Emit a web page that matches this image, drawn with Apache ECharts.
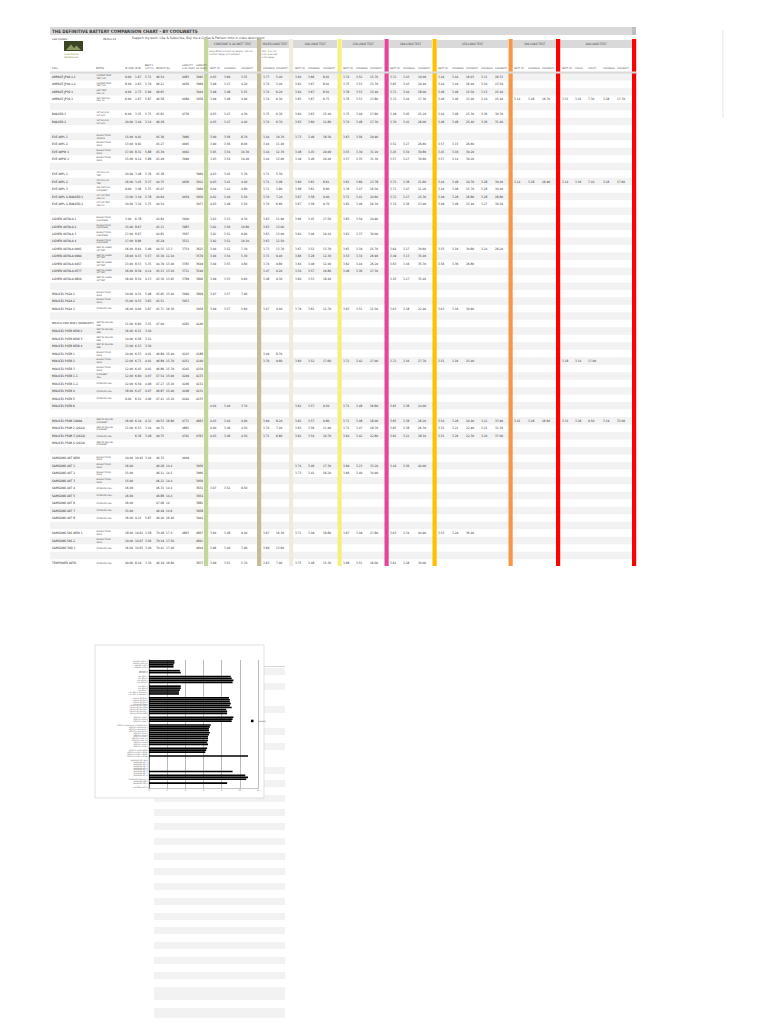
<!DOCTYPE html>
<html><head><meta charset="utf-8">
<script src="https://cdn.jsdelivr.net/npm/echarts@6/dist/echarts.min.js"></script>
<style>html,body{margin:0;padding:0;background:#fff}#c{width:768px;height:1024px}</style>
</head><body><div id="c"></div>
<script>
// ---------- chart data ----------
const categories = [
 'AMPACE JP40 x-1','AMPACE JP40 x-2','AMPACE JP30 1','AMPACE JP30 2','',
 'BAK45D 1','BAK45D 2','',
 'EVE 40PL 1','EVE 40PL 2','EVE 40PW 1','EVE 40PW 2','',
 'EVE 40PL 1','EVE 40PL 2','EVE 40PL 3','EVE 40PL & BAK45D 1','EVE 40PL & BAK45D 2','',
 'LISHEN 4070LA 1','LISHEN 4070LA 2','LISHEN 4070LA 3','LISHEN 4070LA 4','LISHEN 4070LA 0001',
 'LISHEN 4070LA 0994','LISHEN 4070LA 0457','LISHEN 4070LA 0577','LISHEN 4070LA 0820','',
 'MOLICEL P42A 1','MOLICEL P42A 2','MOLICEL P42A 3','',
 'MOLICEL P45B NEW 1 (DATASHEET)','MOLICEL P45B NEW 2','MOLICEL P45B NEW 3','MOLICEL P45B NEW 4',
 'MOLICEL P45B 1','MOLICEL P45B 2','MOLICEL P45B 3','MOLICEL P45B 1-1','MOLICEL P45B 1-2',
 'MOLICEL P45B 4','MOLICEL P45B 5','MOLICEL P45B 6','',
 'MOLICEL P50B 1000A','MOLICEL P50B 2 (2024)','MOLICEL P50B 3 (2024)','MOLICEL P50B 4 (2024)','',
 'SAMSUNG 40T NEW','SAMSUNG 40T 1','SAMSUNG 40T 2','SAMSUNG 40T 3','SAMSUNG 40T 4',
 'SAMSUNG 40T 5','SAMSUNG 40T 6','SAMSUNG 40T 7','SAMSUNG 40T 8','',
 'SAMSUNG 50S NEW 1','SAMSUNG 50S 2','SAMSUNG 30Q 1','',
 'TENPOWER 40TG'
];
const values = [
 2.8,2.8,2.7,2.7,null,
 3.4,3.5,null,
 9.0,9.1,9.3,9.2,null,
 3.5,3.5,3.4,3.3,3.3,null,
 8.8,8.9,8.9,9.0,8.9,9.1,8.5,8.6,8.6,null,
 9.3,9.2,9.1,null,
 6.8,6.7,6.6,6.6,6.7,6.6,6.5,6.5,6.5,6.4,6.5,null,
 6.4,6.3,6.2,null,
 10.9,null,null,null,null,null,null,null,
 9.2,null,10.6,10.9,10.7,null,
 8.6,null,null
];
const seriesName = 'Series1';
const xMin = 0, xMax = 12, xStep = 2;

// ---------- spreadsheet texts ----------
const titleText = 'THE DEFINITIVE BATTERY COMPARISON CHART - BY COOLWATTS';
const updateLabel = 'Last Update:';
const updateDate = '28-Nov-24';
const supportText = 'Support my work: Like & Subscribe, Buy me a Coffee & Patreon links in video description';
const sectionTitles = ['CONSTANT 0.2A WATT TEST','MIXED LOAD TEST','10A LOAD TEST','15A LOAD TEST','20A LOAD TEST','25A LOAD TEST','30A LOAD TEST','40A LOAD TEST'];
const leftHeaders = ['CELL','NOTES','IR (mΩ)','IR AC','BEST V^CUT (V)','WEIGHT (G)','','CAPACITY^0.2A (mAh)','CAPACITY^1A (mAh)'];
const sectionHeaders = [
 ['WATT (h)','20%WH(s)','20%WH(T)'],
 ['20%WH(s)','20%WH(T)'],
 ['WATT (h)','20%WH(s)','20%WH(T)'],
 ['WATT (h)','20%WH(s)','20%WH(T)'],
 ['WATT (h)','20%WH(s)','20%WH(T)'],
 ['WATT (h)','20%WH(s)','20%WH(T)','10%WH(s)','10%WH(T)'],
 ['WATT (h)','20%WH(s)','20%WH(T)'],
 ['WATT (h)','20%(s)','20%(T)','10%WH(s)','10%WH(T)']
];
// notes|left|green|khaki|cream|yellow|pink|gold|orange|red
const tableRows = [
 'CURRENT/TEMP^TEST OVR|9.00 1.67 5.71 46.54 - 4083 3995|4.03 3.69 3.55|3.77 5.40|3.64 3.66 8.01|3.74 3.52 15.70|3.72 3.43 19.09|3.44 3.44 16.03 3.11 26.53',
 'CURRENT/TEMP^TEST OVR|8.00 2.63 5.70 46.21 - 4056 3960|3.99 3.47 4.20|3.74 5.40|3.62 3.67 8.01|3.75 3.53 15.70|3.65 3.43 20.40|3.44 3.44 16.40 3.10 23.50',
 'HEAT TEST^CELL OK|9.00 2.73 5.90 46.65 - - 3944|3.99 3.48 5.55|3.74 6.20|3.64 3.67 8.01|3.76 3.53 15.40|3.72 3.44 18.00|3.46 3.46 15.50 3.13 25.40',
 '2ND TEST 30A^CELL OK|6.00 2.67 5.87 46.58 - 4080 3958|3.99 3.48 4.90|3.74 6.30|3.65 3.67 6.75|3.76 3.53 13.80|3.72 3.44 17.30|3.46 3.46 15.40 3.10 25.40|3.14 3.28 16.70|3.31 3.41 7.30 3.28 17.70',
 '',
 '1ST 10A/2.5V^CUT 4.2V|6.00 3.35 5.75 45.81 - 4376 -|4.03 3.47 4.30|3.75 6.30|3.64 3.63 15.40|3.75 3.49 17.80|3.49 3.45 25.20|3.44 3.48 25.30 3.36 30.70',
 '1ST 10A/2.5V^CUT 4.2V|20.00 3.44 3.14 46.18 - - -|4.03 3.47 4.40|3.74 6.70|3.63 3.60 12.80|3.74 3.48 17.30|3.70 3.41 26.00|3.46 3.48 25.40 3.36 31.40',
 '',
 'BOUGHT FROM^AMAZON|15.00 9.91 - 45.36 - 3966 -|3.90 3.56 8.70|3.44 10.70|3.73 3.46 18.30|3.63 3.56 29.90',
 'BOUGHT FROM^NKON|13.00 9.91 - 45.27 - 4005 -|3.90 3.56 8.00|3.44 11.40|||3.52 3.27 26.60|3.57 3.15 26.60',
 'BOUGHT FROM^NKON|17.00 8.32 5.88 45.39 - 4002 -|3.95 3.54 10.30|3.44 12.70|3.48 3.45 20.00|3.55 3.39 31.10|3.45 3.34 30.80|3.45 3.16 30.20',
 'BOUGHT FROM^NKON|15.00 9.14 5.88 45.49 - 3990 -|3.93 3.54 10.40|3.44 13.00|3.49 3.46 20.40|3.57 3.35 31.30|3.57 3.27 30.60|3.57 3.14 30.20',
 '',
 '1ST 10A/0.5V^TEST|20.00 3.48 5.76 45.38 - - 3960|4.03 3.45 5.70|3.71 5.30',
 '1ST 10A/0.5V^TEST|16.00 3.45 5.37 44.75 - 4056 3912|4.03 3.41 4.40|3.71 5.08|3.60 3.61 8.61|3.61 3.66 13.78|3.72 3.38 21.60|3.44 3.48 19.70 3.28 30.40|3.14 3.28 26.90|3.14 3.16 7.10 3.28 17.60',
 '2ND TEST 10A^DATASHEET|9.00 3.46 5.75 45.07 - - 3960|4.04 3.42 4.80|3.72 5.80|3.68 3.61 8.80|3.76 3.47 16.50|3.71 3.47 21.20|3.44 3.48 15.70 3.28 30.40',
 'CUT OFF TEST^ONLY V2|13.00 3.19 5.78 44.64 - 4059 3950|4.02 3.40 5.50|3.70 7.20|3.67 3.58 9.00|3.71 3.41 20.60|3.72 3.27 25.30|3.49 3.28 16.80 3.28 28.80',
 'CUT OFF TEST^ONLY V2|10.00 3.34 5.75 44.54 - - 3977|4.03 3.48 5.50|3.70 6.80|3.67 3.58 9.70|3.81 3.46 16.30|3.74 3.36 23.00|3.49 3.48 15.40 3.27 30.10',
 '',
 'BOUGHT FROM^ALIEXPRESS|3.00 6.78 - 44.84 - 3900 -|3.93 3.53 9.30|3.63 11.90|3.66 3.45 17.50|3.65 3.59 29.90',
 'BOUGHT FROM^ALIEXPRESS|15.00 8.67 - 45.11 - 3983 -|3.92 3.56 10.80|3.63 13.00',
 'BOUGHT FROM^ALIEXPRESS|17.00 8.67 - 44.81 - 3567 -|3.92 3.52 9.90|3.63 13.00|3.64 3.46 19.10|3.61 3.37 30.00',
 'BOUGHT FROM^ALIEXPRESS|17.00 8.86 - 45.29 - 3521 -|3.92 3.52 10.10|3.63 12.50',
 'SENT BY LISHEN^1ST TEST|16.00 8.64 5.98 44.55 13.3 3754 3625|3.94 3.52 7.30|3.73 13.70|3.67 3.51 13.70|3.65 3.39 25.70|3.64 3.27 30.60|3.55 3.16 30.80 3.24 28.20',
 'SENT BY LISHEN^1ST TEST|18.00 9.15 5.57 45.30 12.10 - 3570|3.94 3.54 5.30|3.71 9.40|3.66 3.28 12.30|3.53 3.34 26.90|3.49 3.13 35.40',
 'SENT BY LISHEN^1ST TEST|13.00 8.53 5.35 44.79 13.40 3783 3649|3.94 3.55 4.60|3.74 9.80|3.64 3.48 12.40|3.62 3.44 26.20|3.63 3.16 35.70|3.56 3.36 26.80',
 'SENT BY LISHEN^1ST TEST|16.00 8.59 4.14 45.13 13.10 3711 3540||3.47 9.20|3.54 3.57 16.80|3.46 3.36 27.30',
 'SENT BY LISHEN^1ST TEST|16.00 8.54 4.13 45.30 13.95 3789 3806|3.99 3.55 4.60|3.48 9.30|3.60 3.53 18.40||3.45 3.27 35.40',
 '',
 'BOUGHT FROM^NKON|19.00 9.32 5.98 45.95 15.40 3990 3809|3.97 3.57 7.90',
 'BOUGHT FROM^NKON|15.00 9.53 3.65 45.51 - 3953 -',
 'STANDARD CELL|16.00 9.00 5.87 45.71 16.30 - 3958|3.99 3.57 5.60|3.47 9.40|3.79 3.61 12.70|3.63 3.51 21.50|3.63 3.18 22.40|3.63 3.16 30.90',
 '',
 'SENT BY MOLICEL^NEW|11.00 6.60 3.55 47.00 - 4283 4246',
 'SENT BY MOLICEL^NEW|16.00 6.51 3.50',
 'SENT BY MOLICEL^NEW|14.00 6.56 3.52',
 'SENT BY MOLICEL^NEW|13.00 6.53 3.50',
 'BOUGHT FROM^NKON|10.00 6.53 4.01 46.89 15.40 4203 4188||3.49 8.70',
 'BOUGHT FROM^NKON|12.00 6.71 4.01 46.89 15.70 4251 4240||3.70 9.80|3.60 3.52 17.60|3.72 3.42 27.00|3.72 3.16 27.70|3.51 3.16 25.40||3.18 3.14 17.00|3.28 3.17 15.78 3.12 16.30',
 'BOUGHT FROM^NKON|12.00 6.45 4.01 46.86 15.70 4202 4259',
 'DATASHEET^CELL|12.00 6.60 4.07 47.54 15.00 4209 4233',
 'STANDARD CELL|12.00 6.59 4.08 47.27 15.10 4206 4232',
 'STANDARD CELL|18.00 6.47 4.07 46.87 15.40 4208 4231',
 'STANDARD CELL|9.00 6.52 4.06 47.41 15.10 4294 4235',
 '||4.04 3.40 3.70||3.62 3.57 9.50|3.71 3.48 16.80|3.65 3.38 24.00',
 '',
 'SENT BY MOLICEL^DATASHEET|16.00 6.29 4.32 49.53 16.80 4771 4663|4.03 3.44 4.90|3.69 8.20|3.62 3.57 9.80|3.71 3.48 18.00|3.65 3.38 26.20|3.54 3.28 20.40 3.22 33.90|3.41 3.28 26.60|3.31 3.28 9.50 3.19 33.00',
 'SENT BY MOLICEL^DATASHEET|11.00 6.53 3.44 49.71 - 4865 -|4.00 3.46 4.50|3.70 7.40|3.63 3.56 11.90|3.71 3.47 18.70|3.65 3.38 26.30|3.51 3.21 22.90 3.21 32.30',
 'STANDARD CELL|- 6.36 3.48 49.75 - 4702 4763|4.03 3.46 4.50|3.71 6.80|3.62 3.54 10.70|3.64 3.42 22.80|3.62 3.21 28.10|3.51 3.26 22.30 3.20 37.00',
 'SENT BY MOLICEL^DATASHEET',
 '',
 'BOUGHT FROM^NKON|19.00 10.93 3.44 46.33 - 4009 -',
 'BOUGHT FROM^NKON|16.00 - - 46.28 14.4 - 3956|||3.74 3.46 17.30|3.69 3.23 33.20|3.44 3.36 44.00',
 'BOUGHT FROM^NKON|15.00 - - 46.11 14.5 - 3966|||3.73 3.41 16.20|3.66 3.40 34.90',
 'BOUGHT FROM^NKON|15.00 - - 46.21 14.4 - 3956',
 'STANDARD CELL|16.00 - - 46.31 14.4 - 3632|3.97 3.52 9.50',
 'STANDARD CELL|16.00 - - 46.88 14.4 - 3954',
 'STANDARD CELL|16.00 - - 47.08 14 - 3882',
 'STANDARD CELL|15.00 - - 46.49 14.6 - 3958',
 'STANDARD CELL|16.00 9.21 5.87 46.26 16.40 - 3944',
 '',
 'BOUGHT FROM^NKON|18.00 10.62 3.58 70.48 17.4 4863 4807|3.94 3.48 9.40|3.67 16.30|3.71 3.49 18.80|3.67 3.49 27.80|3.63 3.34 44.90|3.53 3.29 36.40',
 'BOUGHT FROM^NKON|19.00 10.67 3.56 70.19 17.50 - 4841',
 'STANDARD CELL|16.00 10.65 3.40 70.42 17.40 - 4844|3.96 3.40 7.90|3.69 13.60',
 '',
 'STANDARD CELL|40.00 8.19 3.30 46.29 16.80 - 3873|3.99 3.51 5.70|3.63 7.90|3.75 3.48 15.30|3.68 3.51 26.00|3.61 3.28 30.00'
];

// ---------- layout (page drawing) ----------
const FF = "'Liberation Sans Narrow','DejaVu Sans Condensed','Liberation Sans',sans-serif";
const mctx = document.createElement('canvas').getContext('2d');
function measure(s,size,bold){ mctx.font = (bold?'bold ':'')+size+'px '+FF; return mctx.measureText(s).width; }
const els = [];
function rect(x,y,w,h,fill,z,stroke,lw){
  const st={fill:fill}; if(stroke){st.stroke=stroke;st.lineWidth=lw||0.8;}
  els.push({type:'rect',shape:{x:x,y:y,width:w,height:h},style:st,z:(z==null?-10:z),silent:true});
}
function txt(x,y,s,size,o){
  o=o||{};
  if(!s) return;
  const st={text:s,fontSize:size,fontFamily:FF,
    fontWeight:o.bold?'bold':'normal',fill:o.fill||'#333',align:o.align||'left',verticalAlign:'middle',
    textAlign:o.align||'left',textVerticalAlign:'middle'};
  if(o.width){st.width=o.width;st.overflow='break';st.lineHeight=o.lineHeight||size*1.1;}
  els.push({type:'text',x:x,y:y,silent:true,z:(o.z==null?-5:o.z),style:st});
}
const X0=50, X1=636, NAME_X=52;
// title bar
rect(X0,27,X1-X0,8,'#d9d9d9',-9);
rect(632,27,4,8,'#bfbfbf',-8);
const titleSize = 5*146/measure(titleText,5,true);
txt(NAME_X,31,titleText,titleSize,{bold:true,fill:'#3a3a3a'});
txt(NAME_X,38.3,updateLabel,2.8,{fill:'#444'});
txt(103,38.3,updateDate,2.8,{fill:'#444'});
const supSize = 2.8*133/measure(supportText,2.8);
txt(132,38.3,supportText,supSize,{fill:'#444'});
rect(722.5,30,0.8,88,'#e4e4e4',-9);
// logo
rect(64,41,19,10,'#3b4526',-8);
els.push({type:'polygon',shape:{points:[[66,50],[71,44.5],[74,48],[76.5,45.5],[81,50]]},style:{fill:'#8c9b5e'},z:-7,silent:true});
txt(64,54,'Lucas Stallion',2.4,{fill:'#6b8e23'});
txt(64,57.2,'Get Batteries',2.4,{fill:'#6b8e23'});

// sections
const sections = [
 {x0:208,x1:257,cols:[210,224,241],bar:'#c4d79b',bx:204},
 {x0:261,x1:289,cols:[263,276],bar:'#c4bd97',bx:257},
 {x0:293,x1:337,cols:[295,308,323],bar:'#eeece1',bx:289},
 {x0:342,x1:384,cols:[343,356,370],bar:'#f3f07e',bx:337.5},
 {x0:389,x1:432,cols:[390,403,418],bar:'#e4479a',bx:384.5},
 {x0:437,x1:508,cols:[438,452,466,481,495],bar:'#ffc000',bx:432.5},
 {x0:513,x1:556,cols:[514,528,542],bar:'#f79646',bx:508.5},
 {x0:560,x1:632,cols:[562,575,588,603,617],bar:'#ff0000',bx:556}
];
const leftCols=[125,135,145,156,166,182,196];
const leftHeadX=[NAME_X,96,125,135,145,156,166,182,196];
const ROW0=76.7, PITCH=7.48;

// stripes
for(let i=0;i<tableRows.length;i++){
  if(i%2===0) rect(X0,ROW0-3.74+i*PITCH,X1-X0,PITCH,'#f2f2f2',-9);
}
// vertical coloured bars
sections.forEach(s=>rect(s.bx,39,4.2,527,s.bar,-6));
rect(632,39,4.2,527,'#ff0000',-6);
// header boxes
sections.forEach((s,k)=>{
  rect(s.x0,40,s.x1-s.x0,8,'#d9d9d9',-7);
  txt((s.x0+s.x1)/2,44,sectionTitles[k],3,{align:'center',fill:'#444'});
  s.cols.forEach((cx,j)=>txt(cx,68.3,sectionHeaders[k][j],2.5,{fill:'#444'}));
});
txt(209,51,'Using official 0.2A WATTS capacity, 3.0V cut',2.2,{fill:'#555'});
txt(209,54.2,'4.2V full charge, 25°C ambient',2.2,{fill:'#555'});
txt(262,51,'10A / 2.5V cut /',2.2,{fill:'#555'});
txt(262,54.2,'4.2V, 5 sec rest',2.2,{fill:'#555'});
txt(262,57.4,'5 min pause',2.2,{fill:'#555'});
leftHeaders.forEach((h,j)=>{
  const parts=h.split('^');
  if(parts.length===2){txt(leftHeadX[j],65,parts[0],2.5,{fill:'#444'});txt(leftHeadX[j],68.3,parts[1],2.5,{fill:'#444'});}
  else txt(leftHeadX[j],68.3,h,2.6,{fill:'#444'});
});
rect(X0,71.6,X1-X0,1.8,'#d9d9d9',-4);

// rows
const NAME_SIZE=3.1, NAME_W=43;
tableRows.forEach((row,i)=>{
  const cy=ROW0+i*PITCH;
  const nm=categories[i];
  if(nm){
    if(row && row.split('|')[0] && measure(nm,NAME_SIZE)>NAME_W){
      txt(NAME_X,cy,nm,2.6,{fill:'#1a1a1a',width:NAME_W,lineHeight:2.9});
    } else txt(NAME_X,cy,nm,NAME_SIZE,{fill:'#1a1a1a'});
  }
  if(!row) return;
  const f=row.split('|');
  if(f[0]){
    const n=f[0].split('^');
    if(n.length===2){txt(96.5,cy-1.4,n[0],2.1,{fill:'#444'});txt(96.5,cy+1.4,n[1],2.1,{fill:'#444'});}
    else txt(96.5,cy,n[0],2.1,{fill:'#444'});
  }
  if(f[1]) f[1].split(' ').forEach((v,j)=>{ if(v!=='-') txt(leftCols[j],cy,v,3.1,{fill:'#333'}); });
  sections.forEach((s,k)=>{
    const cell=f[2+k];
    if(cell) cell.split(' ').forEach((v,j)=>txt(s.cols[j],cy,v,3.1,{fill:'#333'}));
  });
});

// lower spreadsheet stripes around the embedded chart
const lowerStripes=[668,683,706,728,743,767,780,795,809,823,838,853,868,883,898,913,927,942,957,972];
lowerStripes.forEach(y=>rect(154,y,131,7,'#f2f2f2',-10));
rect(154,987,131,13,'#f2f2f2',-10);
rect(154,1008,131,10,'#f2f2f2',-10);
rect(264,666,21,1,'#d6d6d6',-10);
// chart area box
rect(95,645,169,153,'#ffffff',-3,'#d9d9d9',0.8);

const chart = echarts.init(document.getElementById('c'), null, {renderer:'svg', width:768, height:1024});
chart.setOption({
  animation:false,
  backgroundColor:'#ffffff',
  graphic:{elements:els},
  grid:{left:149,top:660,width:109,height:128,containLabel:false,outerBoundsMode:'none'},
  legend:{show:true,left:251,top:719.7,padding:0,itemWidth:2.5,itemHeight:2.5,icon:'rect',
    textStyle:{fontSize:2.2,color:'#555',fontFamily:FF},data:[seriesName]},
  xAxis:{type:'value',min:xMin,max:xMax,interval:xStep,
    axisLine:{show:true,lineStyle:{color:'#8c8c8c',width:0.5}},
    axisTick:{show:true,length:1,lineStyle:{color:'#8c8c8c',width:0.4}},
    splitLine:{show:true,lineStyle:{color:'#8f8f8f',width:0.6}},
    axisLabel:{fontSize:2.2,color:'#666',margin:1.5,fontFamily:FF}},
  yAxis:{type:'category',data:categories,inverse:true,
    axisLine:{show:true,lineStyle:{color:'#444',width:0.6}},
    axisTick:{show:true,length:1,lineStyle:{color:'#555',width:0.3}},
    splitLine:{show:false},
    axisLabel:{interval:0,fontSize:1.9,color:'#555',margin:1.5,fontFamily:FF}},
  series:[{type:'bar',name:seriesName,data:values,barCategoryGap:'15%',itemStyle:{color:'#000000'},silent:true}]
});
</script></body></html>
